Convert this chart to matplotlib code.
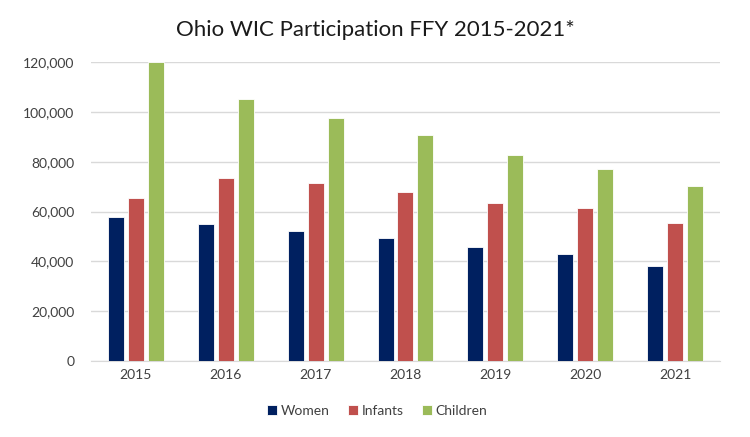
import matplotlib
matplotlib.use("Agg")
import matplotlib.pyplot as plt
import numpy as np
from matplotlib.ticker import FuncFormatter

years = ["2015", "2016", "2017", "2018", "2019", "2020", "2021"]
women = [57600, 55100, 52000, 49300, 45600, 42800, 38000]
infants = [65600, 73600, 71300, 67900, 63500, 61300, 55200]
children = [119900, 105100, 97500, 90700, 82500, 77200, 70300]
series_names = ["Women", "Infants", "Children"]
colors = ["#002060", "#C0504D", "#9BBB59"]

plt.rcParams['font.family'] = ['Lato', 'DejaVu Sans']

fig = plt.figure(figsize=(7.5, 4.37), dpi=100)
ax = fig.add_axes([0.1213, 0.174, 0.8387, 0.684])

x = np.arange(len(years))
w = 0.178
off = 0.222
for i, (vals, name, c) in enumerate(zip([women, infants, children], series_names, colors)):
    ax.bar(x + (i - 1) * off, vals, w, color=c, label=name, edgecolor='white', linewidth=0.6, zorder=3)

ax.set_xlim(-0.5, len(years) - 0.5)
ax.set_ylim(0, 120000)
ax.set_yticks(np.arange(0, 120001, 20000))
ax.yaxis.set_major_formatter(FuncFormatter(lambda v, p: f"{int(v):,}"))
ax.set_xticks(x)
ax.set_xticklabels(years)
ax.grid(axis='y', color='#d9d9d9', linewidth=1, zorder=0)
for s in ['top', 'right', 'left']:
    ax.spines[s].set_visible(False)
ax.spines['bottom'].set_color('#d9d9d9')
ax.tick_params(axis='both', length=0, labelsize=10, colors='#404040', pad=6)
ax.tick_params(axis='y', pad=12)

fig.suptitle("Ohio WIC Participation FFY 2015-2021*", x=0.5, y=0.955, fontsize=16, color='#1a1a1a')

fig.legend(loc='center', bbox_to_anchor=(0.503, 0.059), ncol=3, frameon=False,
           fontsize=10, handlelength=0.7, handleheight=0.7, handletextpad=0.3,
           columnspacing=1.3, labelcolor='#404040')

fig.savefig("out.png", dpi=100)
